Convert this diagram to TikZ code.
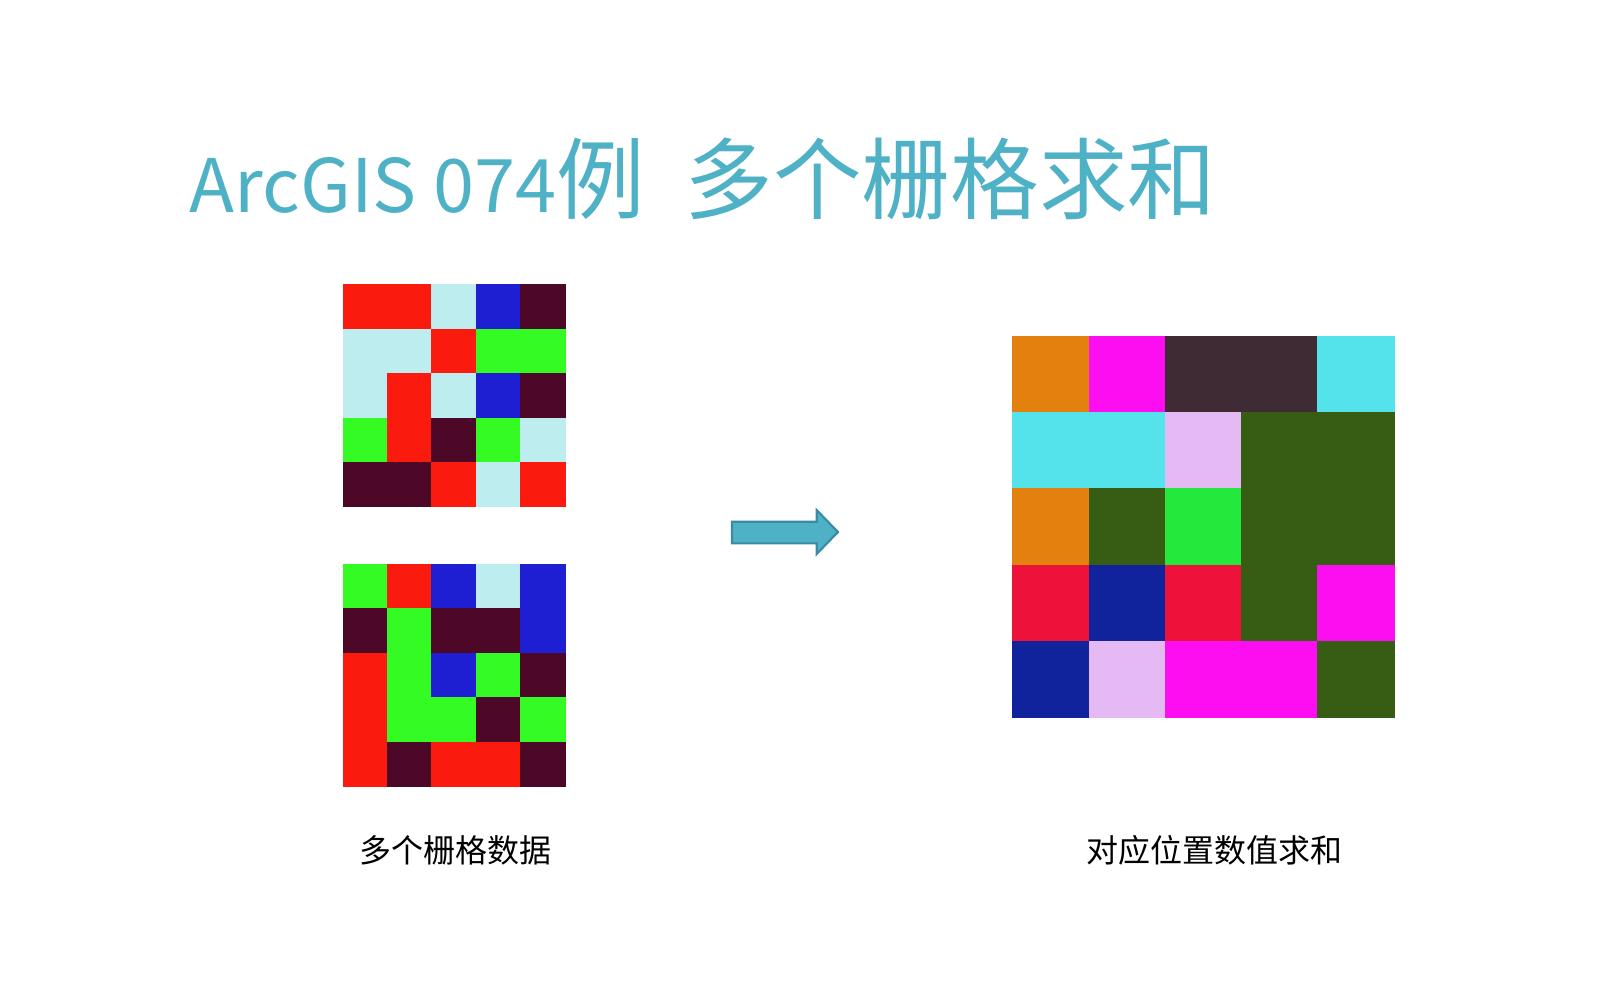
\documentclass[tikz,border=0pt]{standalone}
\usepackage{fontspec}
\usepackage{tikz}
\usetikzlibrary{calc}
\newfontfamily\cjk{Noto Sans CJK SC}

\definecolor{teal}{HTML}{4EB1C6}
\definecolor{tealdark}{HTML}{3A8CA2}
\definecolor{gr}{HTML}{FA1A0E}
\definecolor{gc}{HTML}{BDEDEF}
\definecolor{gb}{HTML}{1E1FD2}
\definecolor{gm}{HTML}{4D0828}
\definecolor{gg}{HTML}{35FB24}
\definecolor{so}{HTML}{E3810F}
\definecolor{sp}{HTML}{FC0EF0}
\definecolor{sk}{HTML}{3E2B33}
\definecolor{sc}{HTML}{55E3EB}
\definecolor{sl}{HTML}{E5B9F3}
\definecolor{sd}{HTML}{365D13}
\definecolor{sg}{HTML}{25E83D}
\definecolor{sr}{HTML}{EE113A}
\definecolor{sn}{HTML}{10229C}

\begin{document}
\begin{tikzpicture}[
  x=0.01cm,y=-0.01cm,
  title/.style={text=teal,inner sep=0pt,font=\cjk\fontsize{25.2pt}{30pt}\selectfont},
  caption/.style={inner sep=0pt,font=\cjk\fontsize{9.1pt}{11pt}\selectfont},
  cell/.style={draw=#1,fill=#1,line width=0.2pt}
]
\useasboundingbox (0,0) rectangle (1603,1002);

\node[title,anchor=base west] (title) at (189,212)
  {{\fontsize{21pt}{26pt}\selectfont ArcGIS 074}例\hspace{0.40cm}多个栅格求和};

\begin{scope}[xshift=3.427cm,yshift=-2.843cm]
\foreach \c [count=\i from 0] in {gr,gr,gc,gb,gm, gc,gc,gr,gg,gg, gc,gr,gc,gb,gm, gg,gr,gm,gg,gc, gm,gm,gr,gc,gr} {
  \pgfmathtruncatemacro\col{mod(\i,5)}
  \pgfmathtruncatemacro\row{div(\i,5)}
  \fill[cell=\c] (\col*44.46,\row*44.46) rectangle ++(44.46,44.46);
}
\end{scope}

\begin{scope}[xshift=3.427cm,yshift=-5.64cm]
\foreach \c [count=\i from 0] in {gg,gr,gb,gc,gb, gm,gg,gm,gm,gb, gr,gg,gb,gg,gm, gr,gg,gg,gm,gg, gr,gm,gr,gr,gm} {
  \pgfmathtruncatemacro\col{mod(\i,5)}
  \pgfmathtruncatemacro\row{div(\i,5)}
  \fill[cell=\c] (\col*44.46,\row*44.46) rectangle ++(44.46,44.46);
}
\end{scope}

\begin{scope}[xshift=10.12cm,yshift=-3.36cm]
\foreach \c [count=\i from 0] in {so,sp,sk,sk,sc, sc,sc,sl,sd,sd, so,sd,sg,sd,sd, sr,sn,sr,sd,sp, sn,sl,sp,sp,sd} {
  \pgfmathtruncatemacro\col{mod(\i,5)}
  \pgfmathtruncatemacro\row{div(\i,5)}
  \fill[cell=\c] (\col*76.3,\row*76.3) rectangle ++(76.3,76.3);
}
\end{scope}

\draw[fill=teal,draw=tealdark,line width=0.6pt] (732,521.7) -- (816.7,521.7) -- (816.7,510) -- (838,532)
  -- (816.7,554) -- (816.7,543.3) -- (732,543.3) -- cycle;

\node[caption,anchor=base] (rasters) at (455,862) {多个栅格数据};
\node[caption,anchor=base] (sum) at (1214,862) {对应位置数值求和};

\end{tikzpicture}
\end{document}
